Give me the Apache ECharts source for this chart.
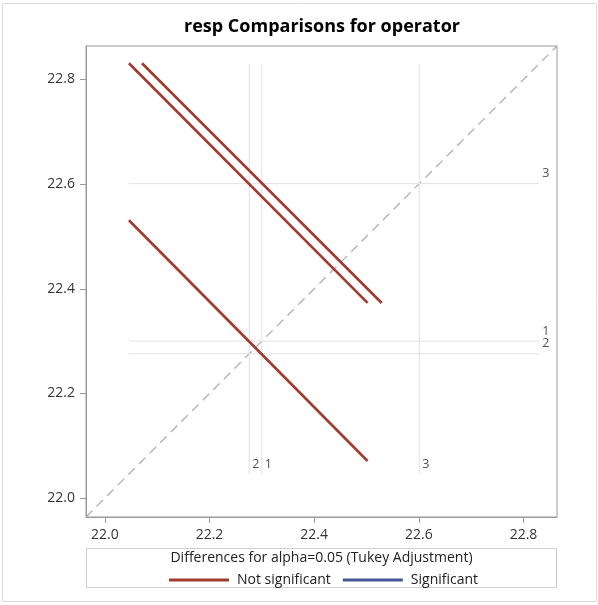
<!DOCTYPE html>
<html><head><meta charset="utf-8">
<script src="https://cdn.jsdelivr.net/npm/echarts@6/dist/echarts.min.js"></script>
<style>html,body{margin:0;padding:0;background:#fff}#c{width:598px;height:605px}</style>
</head><body><div id="c"></div>
<script>
// Levels of operator and their LS-means (reference lines)
const levels = ['1', '2', '3'];
const levelMeans = [22.300, 22.276, 22.601];
// Diffogram segments (pairwise comparisons), endpoints
const segNames = ['2 vs 1', '2 vs 3', '1 vs 3'];
const segStartX = [22.046, 22.046, 22.071];
const segStartY = [22.531, 22.831, 22.831];
const segEndX = [22.502, 22.502, 22.529];
const segEndY = [22.071, 22.373, 22.373];
const segSignificant = [false, false, false];
// Axis ticks
const tickValues = [22.0, 22.2, 22.4, 22.6, 22.8];
const axisMin = 21.964, axisMax = 22.864;
const refMin = 22.046, refMax = 22.830;

const FONT = 'Open Sans';
const RED = '#A23A2E', BLUE = '#445694';
const chart = echarts.init(document.getElementById('c'), null, {renderer: 'canvas'});

const series = [];
series.push({
  type: 'line', silent: true, symbol: 'none', z: 1,
  data: [[axisMin, axisMin], [axisMax, axisMax]],
  lineStyle: {color: '#a8a8a8', width: 1.2, type: [9, 6]}
});
levelMeans.forEach((m, i) => {
  series.push({type: 'line', silent: true, symbol: 'none', z: 2,
    data: [[refMin, m], [refMax, m]], lineStyle: {color: '#e2e2e2', width: 1}});
  series.push({type: 'line', silent: true, symbol: 'none', z: 2,
    data: [[m, refMin], [m, refMax]], lineStyle: {color: '#e2e2e2', width: 1}});
});
series.push({
  type: 'scatter', silent: true, symbolSize: 0, z: 3,
  data: levels.map((l, i) => ({name: l, value: [refMax, levelMeans[i]]}))
    .concat(levels.map((l, i) => ({name: l, value: [levelMeans[i], refMin]}))),
  label: {show: true, formatter: '{b}', position: 'right', distance: 3, offset: [0, -10],
    fontFamily: FONT, fontSize: 12.5, color: '#222'}
});
segNames.forEach((n, i) => {
  series.push({
    name: segSignificant[i] ? 'Significant' : 'Not significant',
    type: 'line', symbol: 'none', z: 5, silent: true,
    color: segSignificant[i] ? BLUE : RED,
    data: [[segStartX[i], segStartY[i]], [segEndX[i], segEndY[i]]],
    lineStyle: {width: 2.6}
  });
});
series.push({name: 'Significant', type: 'line', symbol: 'none', color: BLUE, data: [], lineStyle: {width: 2.6}});

const axisCommon = {
  type: 'value', min: axisMin, max: axisMax,
  axisLine: {show: true, lineStyle: {color: '#9a9a9a'}},
  axisTick: {show: true, length: 6, customValues: tickValues, lineStyle: {color: '#9a9a9a'}},
  axisLabel: {customValues: tickValues, formatter: v => v.toFixed(1), margin: 11,
    fontFamily: FONT, fontSize: 14, color: '#333'},
  splitLine: {show: false}
};

chart.setOption({
  animation: false,
  backgroundColor: '#fff',
  grid: {left: 86, top: 46, width: 471, height: 471, show: true, borderColor: '#9a9a9a', borderWidth: 1},
  xAxis: axisCommon,
  yAxis: Object.assign({}, axisCommon),
  legend: {
    data: ['Not significant', 'Significant'],
    left: 164, top: 568, icon: 'rect', itemWidth: 60, itemHeight: 3, itemGap: 12,
    textStyle: {fontFamily: FONT, fontSize: 14, color: '#222', padding: [0, 0, 0, 3]},
    selectedMode: false
  },
  graphic: [
    {type: 'rect', silent: true, shape: {x: 2.5, y: 3.5, width: 594, height: 598},
      style: {fill: 'none', stroke: '#dcdcdc', lineWidth: 1}},
    {type: 'text', silent: true, x: 322, y: 27,
      style: {text: 'resp Comparisons for operator', align: 'center', verticalAlign: 'middle',
        font: 'bold 18px "Open Sans"', fill: '#000'}},
    {type: 'rect', silent: true, shape: {x: 86.5, y: 548.5, width: 470, height: 39},
      style: {fill: 'none', stroke: '#cfcfcf', lineWidth: 1}},
    {type: 'text', silent: true, x: 321.5, y: 558,
      style: {text: 'Differences for alpha=0.05 (Tukey Adjustment)', align: 'center', verticalAlign: 'middle',
        font: '14px "Open Sans"', fill: '#222'}}
  ],
  series: series
});
</script>
</body></html>
